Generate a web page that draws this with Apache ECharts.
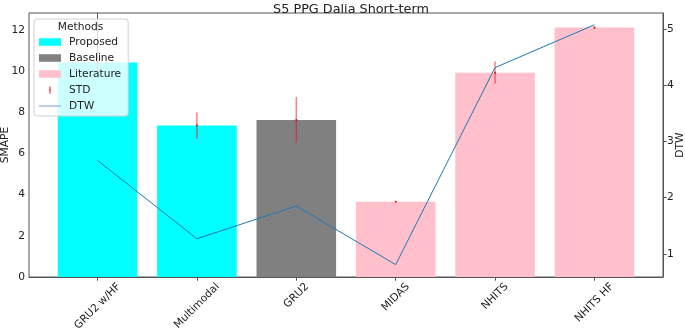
<!DOCTYPE html>
<html><head><meta charset="utf-8">
<script src="https://cdn.jsdelivr.net/npm/echarts@6/dist/echarts.min.js"></script>
<style>html,body{margin:0;padding:0;background:#fff}#c{width:685px;height:330px}</style>
</head><body><div id="c"></div>
<script>
// ---- data ----
const categories = ['GRU2 w/HF', 'Multimodal', 'GRU2', 'MIDAS', 'NHITS', 'NHITS HF'];
const methodGroup = ['Proposed', 'Proposed', 'Baseline', 'Literature', 'Literature', 'Literature'];
const smape = [10.42, 7.36, 7.63, 3.66, 9.93, 12.12];
const smapeStd = [0.5, 0.64, 1.12, 0.03, 0.54, 0.06];
const dtw = [2.66, 1.27, 1.85, 0.81, 4.31, 5.07];
const groups = ['Proposed', 'Baseline', 'Literature'];
const leftTicks = [0, 2, 4, 6, 8, 10, 12];
const rightTicks = [1, 2, 3, 4, 5];

// ---- style ----
const FONT = '"DejaVu Sans", sans-serif';
const FS = 10.67;
const TXT = '#222';
const AX = '#555';
const groupColors = { Proposed: '#00ffff', Baseline: '#808080', Literature: '#ffc0cb' };

const ctx = document.createElement('canvas').getContext('2d');
ctx.font = FS + 'px "DejaVu Sans"';
const rich = {};
categories.forEach((c, i) => {
  const p = ctx.measureText(c).width / 2;
  rich['l' + i] = { fontSize: FS, fontFamily: FONT, color: TXT, padding: [p, p, 0, 0] };
});

const xIdx = categories.map((c, i) => i);

const barSeries = groups.map(g => ({
  name: g,
  type: 'bar',
  xAxisIndex: 0, yAxisIndex: 0,
  barWidth: 79.6,
  barGap: '-100%',
  itemStyle: { color: groupColors[g] },
  data: xIdx.filter(i => methodGroup[i] === g).map(i => [i, smape[i]]),
  z: 2
}));

const chart = echarts.init(document.getElementById('c'), null, { renderer: 'canvas' });
chart.setOption({
  animation: false,
  backgroundColor: '#fff',
  textStyle: { fontFamily: FONT },
  title: {
    text: 'S5 PPG Dalia Short-term', left: 346, top: -2, textAlign: 'center',
    textStyle: { fontSize: 12.8, fontWeight: 'normal', fontFamily: FONT, color: TXT }
  },
  graphic: [{
    type: 'text', x: 80.5, y: 27, z: 100, zlevel: 0,
    style: { text: 'Methods', fill: TXT, font: FS + 'px ' + FONT, textAlign: 'center', textVerticalAlign: 'middle' }
  }],
  legend: {
    orient: 'vertical', left: 34, top: 19,
    padding: [17, 7, 4, 5],
    itemWidth: 22, itemHeight: 7.5, itemGap: 4,
    backgroundColor: 'rgba(255,255,255,0.8)',
    borderColor: '#d0d0d0', borderWidth: 1, borderRadius: 3,
    textStyle: { fontSize: FS, fontFamily: FONT, color: TXT, lineHeight: 12, padding: [0, 0, 0, 3] },
    data: [
      { name: 'Proposed', icon: 'rect' },
      { name: 'Baseline', icon: 'rect' },
      { name: 'Literature', icon: 'rect' },
      { name: 'STD', icon: 'path://M0,0Z M22,7.5Z M10.3,-1L11.7,-1L11.7,8.5L10.3,8.5Z M9.8,3L12.2,3L12.2,4.5L9.8,4.5Z', itemStyle: { color: '#ff3030' } },
      { name: 'DTW', icon: 'path://M0,0Z M22,7.5Z M0,3.2L22,3.2L22,4.3L0,4.3Z', itemStyle: { color: '#6fa3cf' } }
    ],
    z: 4
  },
  grid: {
    left: 29, right: 22, top: 13, bottom: 53,
    containLabel: false, outerBoundsMode: 'none',
    show: true, borderColor: AX, borderWidth: 1, backgroundColor: 'transparent'
  },
  xAxis: {
    type: 'value', min: -0.69, max: 5.69,
    splitLine: { show: false },
    axisLine: { show: true, lineStyle: { color: AX, width: 1 } },
    axisTick: { show: true, customValues: xIdx, length: 3.7, inside: false, lineStyle: { color: AX } },
    axisLabel: {
      customValues: xIdx, rotate: 45, align: 'center', verticalAlign: 'middle', margin: 8,
      fontSize: FS, fontFamily: FONT, color: TXT,
      formatter: v => '{l' + Math.round(v) + '|' + categories[Math.round(v)] + '}',
      rich: rich
    }
  },
  yAxis: [{
    type: 'value', min: 0, max: 12.83, position: 'left',
    name: 'SMAPE', nameLocation: 'middle', nameGap: 18, nameMoveOverlap: false,
    nameTextStyle: { fontSize: FS, fontFamily: FONT, color: TXT },
    splitLine: { show: false },
    axisLine: { show: true, lineStyle: { color: AX, width: 1 } },
    axisTick: { show: true, customValues: leftTicks, length: 3.7, lineStyle: { color: AX } },
    axisLabel: { customValues: leftTicks, margin: 4, fontSize: FS, fontFamily: FONT, color: TXT }
  }, {
    type: 'value', min: 0.59, max: 5.28, position: 'right',
    name: 'DTW', nameLocation: 'middle', nameGap: 12, nameMoveOverlap: false,
    nameTextStyle: { fontSize: FS, fontFamily: FONT, color: TXT },
    splitLine: { show: false },
    axisLine: { show: true, lineStyle: { color: AX, width: 1 } },
    axisTick: { show: true, customValues: rightTicks, length: 3.7, lineStyle: { color: AX } },
    axisLabel: { customValues: rightTicks, margin: 4, fontSize: FS, fontFamily: FONT, color: TXT }
  }],
  series: barSeries.concat([{
    name: 'STD',
    type: 'custom',
    xAxisIndex: 0, yAxisIndex: 0,
    itemStyle: { color: '#ff3030' },
    encode: { x: 0, y: 1 },
    data: xIdx.map(i => [i, smape[i], smapeStd[i]]),
    renderItem: (params, api) => {
      const x = api.value(0), y = api.value(1), s = api.value(2);
      const top = api.coord([x, y + s]), bot = api.coord([x, y - s]), c = api.coord([x, y]);
      return {
        type: 'group',
        children: [
          { type: 'line', shape: { x1: top[0], y1: top[1], x2: bot[0], y2: bot[1] }, style: { stroke: 'rgba(255,0,0,0.5)', lineWidth: 1.5 } },
          { type: 'circle', shape: { cx: c[0], cy: c[1], r: 1 }, style: { fill: 'rgba(230,0,0,0.9)' } }
        ]
      };
    },
    z: 3
  }, {
    name: 'DTW',
    type: 'line',
    xAxisIndex: 0, yAxisIndex: 1,
    symbol: 'none',
    lineStyle: { color: '#1f77b4', width: 1 },
    itemStyle: { color: '#1f77b4' },
    data: xIdx.map(i => [i, dtw[i]]),
    z: 5
  }])
});
</script>
</body></html>
